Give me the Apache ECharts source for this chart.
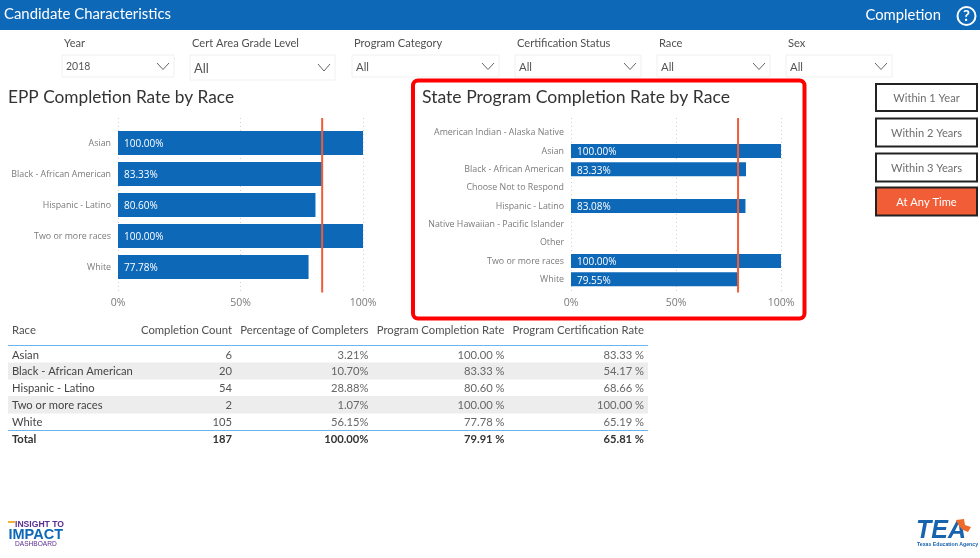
<!DOCTYPE html>
<html><head><meta charset="utf-8">
<style>html,body{margin:0;padding:0;background:#fff}#c{width:980px;height:558px}</style>
<script src="https://cdn.jsdelivr.net/npm/echarts@6/dist/echarts.min.js"></script>
</head><body><div id="c"></div>
<script>
const eppCategories = ['Asian','Black - African American','Hispanic - Latino','Two or more races','White'];
const eppRates = [100.00,83.33,80.60,100.00,77.78];
const eppReference = 83.33;
const stateCategories = ['American Indian - Alaska Native','Asian','Black - African American','Choose Not to Respond','Hispanic - Latino','Native Hawaiian - Pacific Islander','Other','Two or more races','White'];
const stateRates = [null,100.00,83.33,null,83.08,null,null,100.00,79.55];
const stateReference = 79.55;
const tableHeaders = ['Race','Completion Count','Percentage of Completers','Program Completion Rate','Program Certification Rate'];
const tableRows = [
 ['Asian','6','3.21%','100.00 %','83.33 %'],
 ['Black - African American','20','10.70%','83.33 %','54.17 %'],
 ['Hispanic - Latino','54','28.88%','80.60 %','68.66 %'],
 ['Two or more races','2','1.07%','100.00 %','100.00 %'],
 ['White','105','56.15%','77.78 %','65.19 %']];
const tableTotal = ['Total','187','100.00%','79.91 %','65.81 %'];
const filters = [
 {label:'Year',value:'2018',x:62,w:112,h:22,fs:10.5},
 {label:'Cert Area Grade Level',value:'All',x:190,w:145,h:25,fs:13},
 {label:'Program Category',value:'All',x:352,w:147,h:22,fs:11.3},
 {label:'Certification Status',value:'All',x:515,w:126,h:22,fs:11.3},
 {label:'Race',value:'All',x:657,w:113,h:22,fs:11.3},
 {label:'Sex',value:'All',x:786,w:106,h:22,fs:11.3}];
const buttons = ['Within 1 Year','Within 2 Years','Within 3 Years','At Any Time'];

const BLUE='#0d68b8', ORANGE='#f15d36', TXT='#7a7a7a', DARK='#3c3c3c';
const F='"Lato","Open Sans",sans-serif', FA='"Open Sans","Noto Sans",sans-serif';
const colRight=[0,232,368.5,504.5,644];
const g=[];
const text=(t,x,y,o={})=>g.push({type:'text',silent:true,z:o.z||5,style:{text:t,x,y,fill:o.c||DARK,font:`${o.i?'italic ':''}${o.b?'bold ':''}${o.fs||11}px ${o.f||F}`,align:o.a||'left',verticalAlign:'middle'}});
let o_z=1;
const rect=(x,y,w,h,fill,stroke,lw,r)=>g.push({type:'rect',silent:true,z:o_z,shape:{x,y,width:w,height:h,r:r||0},style:{fill:fill||'transparent',stroke:stroke||null,lineWidth:lw||0}});

// header band
rect(0,0,980,30,BLUE);
text('Candidate Characteristics',4,14.5,{c:'#fff',fs:14.9});
text('Completion',941,15,{c:'#fff',fs:14.8,a:'right'});
g.push({type:'circle',silent:true,z:5,shape:{cx:966.5,cy:16,r:9},style:{fill:'transparent',stroke:'#fff',lineWidth:2}});
text('?',966.5,16.5,{c:'#fff',fs:15,b:true,a:'center'});

// filters
filters.forEach(f=>{
  text(f.label,f.x+2,43,{fs:11.1,c:'#505050'});
  rect(f.x,55,f.w,f.h,'#fff','#f0f0f0',1);
  text(f.value,f.x+4,f.h>22?69:67,{fs:f.fs,c:'#555'});
  const r=f.x+f.w-5;
  g.push({type:'polyline',silent:true,z:5,shape:{points:[[r-12,f.h>22?64:63],[r-6,f.h>22?71:69.5],[r,f.h>22?64:63]]},style:{fill:null,stroke:'#666',lineWidth:1}});
});

// panel titles and highlight
text('EPP Completion Rate by Race',8,97.5,{fs:17.3,c:'#333'});
text('State Program Completion Rate by Race',422,97.5,{fs:17.6,c:'#333'});
o_z=6; rect(413,80.5,391.5,238,null,'#fe0000',4,5); o_z=1;

// buttons
const btnY=[84,118.5,153.5,187.5], btnH=[27,28,28,28];
buttons.forEach((b,i)=>{
  const on=i===3;
  rect(876,btnY[i],101,btnH[i],on?ORANGE:'#fff','#222',2);
  text(b,926.5,btnY[i]+btnH[i]/2+0.5,{fs:11.1,c:on?'#fff':'#6e6e6e',a:'center'});
});

// table
text(tableHeaders[0],12,330.5,{fs:11.3,c:'#505050'});
for(let c=1;c<5;c++) text(tableHeaders[c],colRight[c],330.5,{fs:11.3,c:'#505050',a:'right'});
const rowY=[355,371.5,388.5,405.5,422];
rect(8,362.5,640,17,'#eeeded'); rect(8,396,640,17.5,'#eeeded');
rect(8,345,640,1,'#6db3f2'); rect(8,430,640,1,'#6db3f2');
tableRows.forEach((r,i)=>{
  text(r[0],12,rowY[i],{fs:11.2,c:'#444'});
  for(let c=1;c<5;c++) text(r[c],colRight[c],rowY[i],{fs:11.2,c:c<2?'#555':'#666',a:'right'});
});
text(tableTotal[0],12,439,{fs:11.2,c:'#333',b:true});
for(let c=1;c<5;c++) text(tableTotal[c],colRight[c],439,{fs:11.2,c:'#333',b:true,a:'right'});

// logos
text('INSIGHT TO',15,525,{fs:8.6,b:true,c:'#5b2d91',f:'"Liberation Sans",sans-serif'});
text('IMPACT',8.5,534.5,{fs:14.5,b:true,c:'#0d68b8',f:'"Liberation Sans",sans-serif'});
text('DASHBOARD',15,544,{fs:6.6,c:'#5b2d91',f:'"Liberation Sans",sans-serif'});
g.push({type:'rect',silent:true,z:5,shape:{x:8,y:521,width:7,height:2},style:{fill:'#f5b335'}});
text('TEA',916,531,{fs:25,b:true,i:true,c:'#1763ad',f:'"Liberation Sans",sans-serif'});
g.push({type:'polygon',silent:true,z:6,shape:{points:[[956,520],[964,519],[965,525],[971,527],[968,532],[963,530],[959,526]]},style:{fill:'#ee6a2c'}});
text('Texas Education Agency',917,545,{fs:5.2,b:true,c:'#1763ad',f:'"Liberation Sans",sans-serif'});

function panel(idx,cats,vals,ref,left,right,barTop,barBottom,barW){
  const W=980,H=558,plotTop=118,plotBottom=292.5;
  const grids=[
   {left,right:W-right,top:barTop,bottom:H-barBottom},
   {left,right:W-right,top:plotTop,bottom:H-plotBottom}];
  const xAxes=[
   {gridIndex:idx*2,type:'value',min:0,max:100,interval:50,show:false},
   {gridIndex:idx*2+1,type:'value',min:0,max:100,interval:50,
    axisLine:{show:false},axisTick:{show:false},
    axisLabel:{formatter:'{value}%',color:TXT,fontSize:10.5,fontFamily:FA,margin:5,hideOverlap:false},
    splitLine:{show:true,lineStyle:{type:[1,3],color:'#cfcfcf',width:1}}}];
  const yAxes=[
   {gridIndex:idx*2,type:'category',data:cats,inverse:true,axisLine:{show:false},axisTick:{show:false},
    axisLabel:{color:TXT,fontSize:8.85,fontFamily:FA,margin:7,interval:0,padding:[1,0,0,0]},splitLine:{show:false}},
   {gridIndex:idx*2+1,type:'value',min:0,max:1,show:false}];
  const series=[
   {type:'bar',xAxisIndex:idx*2,yAxisIndex:idx*2,data:vals,barWidth:barW,silent:true,z:2,
    itemStyle:{color:BLUE},
    label:{show:true,position:'insideLeft',distance:6,offset:[0,1.5],color:'#fff',fontSize:10,fontFamily:FA,
      formatter:p=>p.value.toFixed(2)+'%'}},
   {type:'line',xAxisIndex:idx*2+1,yAxisIndex:idx*2+1,data:[[ref,0],[ref,1]],showSymbol:false,silent:true,z:4,
    lineStyle:{color:ORANGE,width:2}}];
  return {grids,xAxes,yAxes,series};
}
const a=panel(0,eppCategories,eppRates,eppReference,118,363,127.5,282.5,24);
const b=panel(1,stateCategories,stateRates,stateReference,571,781,123.5,288.5,14);
const chart=echarts.init(document.getElementById('c'));
chart.setOption({animation:false,backgroundColor:'#fff',
  grid:[...a.grids,...b.grids],xAxis:[...a.xAxes,...b.xAxes],yAxis:[...a.yAxes,...b.yAxes],
  series:[...a.series,...b.series],graphic:{elements:g}});
</script></body></html>
